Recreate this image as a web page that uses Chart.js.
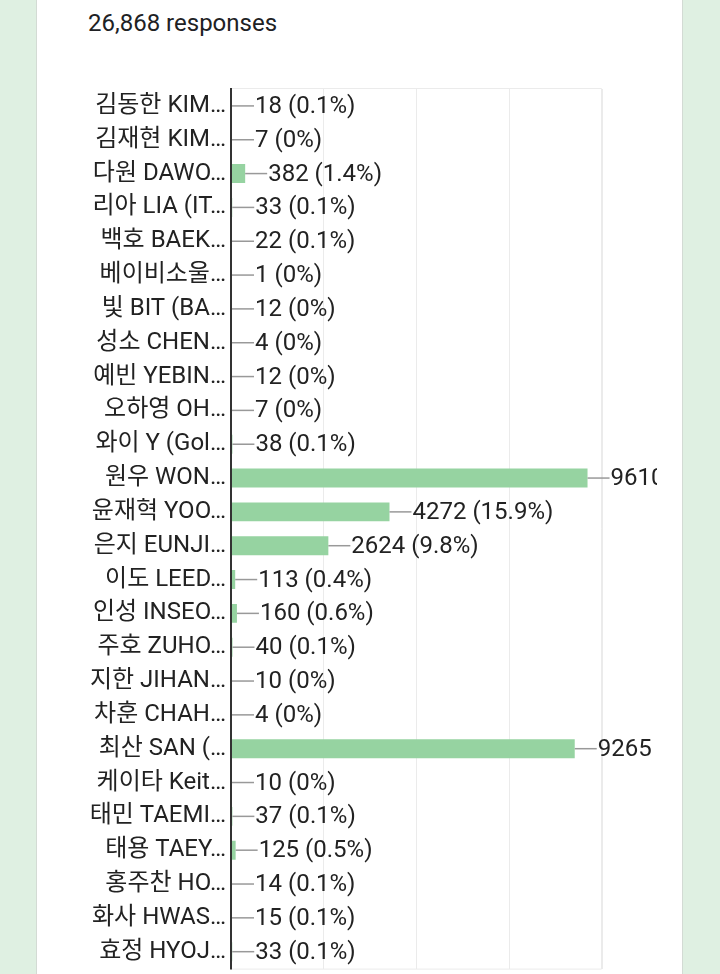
<!DOCTYPE html>
<html>
<head>
<meta charset="utf-8">
<script src="https://cdn.jsdelivr.net/npm/chart.js@4/dist/chart.umd.min.js"></script>
<style>
  html, body { margin: 0; padding: 0; }
  body {
    width: 720px; height: 974px; overflow: hidden;
    background: #dff0e2; position: relative;
    font-family: Roboto, 'Noto Sans CJK KR', sans-serif;
  }
  .card {
    position: absolute; left: 36px; top: 0; width: 645px; height: 974px;
    background: #fff; border-left: 1px solid #d3dbd4; border-right: 1px solid #d3dbd4;
  }
  .title {
    position: absolute; left: 88px; top: 9px;
    font-size: 24px; color: #202124;
  }
  .chart-box { position: absolute; left: 38px; top: 65px; width: 645px; height: 923px; }
</style>
</head>
<body>
<div class="card"></div>
<div class="title" id="title"></div>
<div class="chart-box"><canvas id="responsesChart"></canvas></div>
<script>
const totalResponses = 26868;

const categories = [
  '김동한 KIM…', '김재현 KIM…', '다원 DAWO…', '리아 LIA (IT…', '백호 BAEK…',
  '베이비소울…', '빛 BIT (BA…', '성소 CHEN…', '예빈 YEBIN…', '오하영 OH…',
  '와이 Y (Gol…', '원우 WON…', '윤재혁 YOO…', '은지 EUNJI…', '이도 LEED…',
  '인성 INSEO…', '주호 ZUHO…', '지한 JIHAN…', '차훈 CHAH…', '최산 SAN (…',
  '케이타 Keit…', '태민 TAEMI…', '태용 TAEY…', '홍주찬 HO…', '화사 HWAS…',
  '효정 HYOJ…'
];

const votes = [
  18, 7, 382, 33, 22,
  1, 12, 4, 12, 7,
  38, 9610, 4272, 2624, 113,
  160, 40, 10, 4, 9265,
  10, 37, 125, 14, 15,
  33
];

const xTicks = [0, 2500, 5000, 7500, 10000];

const FONT = 'Roboto, "Noto Sans CJK KR", sans-serif';

document.getElementById('title').textContent =
  totalResponses.toLocaleString('en-US') + ' responses';

function pctText(v) {
  return parseFloat((v / totalResponses * 100).toFixed(1)).toString();
}

// light frame round the plot + dark baseline
const framePlugin = {
  id: 'frame',
  beforeDatasetsDraw(chart) {
    const { ctx, chartArea: a } = chart;
    ctx.save();
    ctx.strokeStyle = '#ebebeb';
    ctx.lineWidth = 1;
    ctx.beginPath();
    ctx.moveTo(a.left, a.top - 0.5);
    ctx.lineTo(a.right - 0.5, a.top - 0.5);
    ctx.lineTo(a.right - 0.5, a.bottom + 0.5);
    ctx.lineTo(a.left, a.bottom + 0.5);
    ctx.stroke();
    ctx.restore();
  },
  afterDatasetsDraw(chart) {
    const { ctx, chartArea: a } = chart;
    ctx.save();
    ctx.strokeStyle = '#333';
    ctx.lineWidth = 2;
    ctx.beginPath();
    ctx.moveTo(a.left, a.top - 1);
    ctx.lineTo(a.left, a.bottom + 1);
    ctx.stroke();
    ctx.restore();
  }
};

// "value (pct%)" annotation with a short leader line
const annotationPlugin = {
  id: 'annotations',
  afterDraw(chart) {
    const { ctx } = chart;
    const meta = chart.getDatasetMeta(0);
    ctx.save();
    ctx.beginPath();
    ctx.rect(0, 0, 619, chart.height);
    ctx.clip();
    ctx.font = '24px ' + FONT;
    ctx.textBaseline = 'middle';
    meta.data.forEach((bar, i) => {
      const v = votes[i];
      const x = Math.max(bar.x, chart.chartArea.left + 1);
      const y = bar.y;
      ctx.strokeStyle = '#999';
      ctx.lineWidth = 1.5;
      ctx.beginPath();
      ctx.moveTo(x, y);
      ctx.lineTo(x + 22, y);
      ctx.stroke();
      ctx.fillStyle = '#222';
      ctx.fillText(v + ' (' + pctText(v) + '%)', x + 23, y + 1);
    });
    ctx.restore();
  }
};

const ctx = document.getElementById('responsesChart');

new Chart(ctx, {
  type: 'bar',
  data: {
    labels: categories,
    datasets: [{
      data: votes,
      backgroundColor: '#96d3a1',
      borderWidth: 0,
      barPercentage: 0.56,
      categoryPercentage: 1
    }]
  },
  options: {
    indexAxis: 'y',
    responsive: true,
    maintainAspectRatio: false,
    animation: false,
    layout: { padding: { left: 0, right: 81, top: 24, bottom: 7 } },
    plugins: {
      legend: { display: false },
      tooltip: { enabled: false }
    },
    scales: {
      x: {
        min: 0,
        max: 10000,
        afterBuildTicks(scale) {
          scale.ticks = xTicks.map(v => ({ value: v }));
        },
        afterFit(scale) { scale.height = 0; },
        ticks: { display: false },
        grid: { color: '#ebebeb', lineWidth: 1, drawTicks: false },
        border: { display: false }
      },
      y: {
        afterFit(scale) { scale.width = 193; },
        ticks: {
          color: '#222',
          padding: 5,
          font: { family: FONT, size: 24 }
        },
        grid: { display: false, drawTicks: false },
        border: { display: false }
      }
    }
  },
  plugins: [framePlugin, annotationPlugin]
});
</script>
</body>
</html>
